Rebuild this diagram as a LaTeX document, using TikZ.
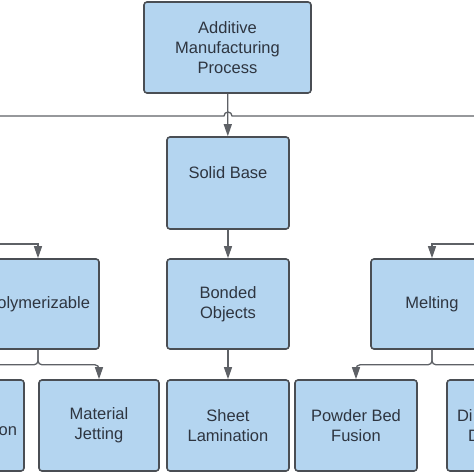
\documentclass[tikz,border=0pt]{standalone}
\usepackage{fontspec}
\setmainfont{Liberation Sans}
\usetikzlibrary{arrows.meta}
\definecolor{boxfill}{HTML}{B4D5F0}
\definecolor{boxline}{HTML}{4A4E54}
\definecolor{wire}{HTML}{5E6166}
\definecolor{ink}{HTML}{2E3540}
\begin{document}
\begin{tikzpicture}[x=1pt, y=1pt,
    box/.style = {draw=boxline, fill=boxfill, line width=1.6pt, rounded corners=3pt,
                  minimum width=122pt, minimum height=91pt, text=ink, align=center,
                  font=\fontsize{16.5}{20}\selectfont},
    link/.style = {draw=wire, line width=1.3pt, -{Triangle[width=8pt,length=12pt]}},
    plain/.style = {draw=wire, line width=1.3pt}]
      \useasboundingbox (0,0) rectangle (474,474);
      \clip (0,0) rectangle (474,474);

      \node[box, minimum width=167pt] (amp) at (227.5,426.5) {Additive\\Manufacturing\\Process};
      \node[box, minimum height=92pt] (solid) at (228,291) {Solid Base\\~};
      \node[box, minimum height=90pt, text width=104pt, align=right] (poly) at (38,170) {olymerizable};
      \node[box, minimum height=90pt] (bond) at (228,170) {Bonded\\Objects};
      \node[box, minimum height=90pt] (melt) at (432,170) {Melting};
      \node[box, text width=108pt, align=right] (vat) at (-37,48.5) {~\\on};
      \node[box, minimum width=120pt] (jet) at (99,48.5) {Material\\Jetting};
      \node[box] (sheet) at (228,48.5) {Sheet\\Lamination};
      \node[box] (pbf) at (356,48.5) {Powder Bed\\Fusion};
      \node[box, text width=102pt, align=left] (ded) at (508,48.5) {Di\\\hspace*{11pt}D};

      \coordinate (lft) at (0,358);
      \coordinate (rgt) at (474,358);
      \coordinate (lftb) at (0,230);
      \coordinate (rgtb) at (474,230);

      % branch lines
      \draw[plain] (lft) -- (224,358) arc[start angle=180, end angle=0, radius=4] -- (rgt);
      \draw[link] (lftb) -| (poly.north);
      \draw[link] (rgtb) -| (melt.north);

      \draw[link] (amp) -- (solid);
      \draw[link] (solid) -- (bond);
      \draw[link] (bond) -- (sheet);

      \draw[link, rounded corners=4pt] (poly.south) -- ++(0,-15) -| (jet.north);
      \draw[link, rounded corners=4pt] (poly.south) -- ++(0,-15) -| (vat.north);
      \draw[link, rounded corners=4pt] (melt.south) -- ++(0,-15) -| (pbf.north);
      \draw[link, rounded corners=4pt] (melt.south) -- ++(0,-15) -| (ded.north);
\end{tikzpicture}
\end{document}
